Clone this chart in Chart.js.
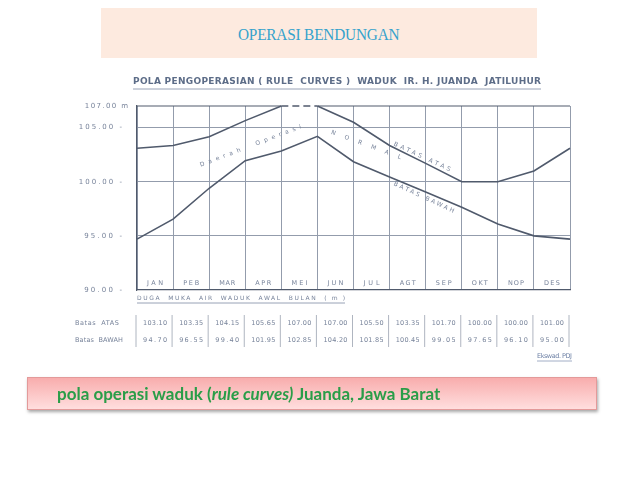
<!DOCTYPE html>
<html>
<head>
<meta charset="utf-8">
<title>Operasi Bendungan</title>
<script src="https://cdn.jsdelivr.net/npm/chart.js@4.4.1/dist/chart.umd.min.js"></script>
<style>
body { margin: 0; width: 638px; height: 478px; background: #fff; position: relative; overflow: hidden; }
#judul { position: absolute; left: 101px; top: 8px; width: 436px; height: 50px; background: #fdeadf;
  color: #35a2cc; font: 17px 'Liberation Serif', serif; text-align: center; line-height: 54px; }
#judul span { display: inline-block; transform: scaleX(0.9); letter-spacing: -0.2px; }
#grafik { position: absolute; left: 0; top: 0; }
#ket { position: absolute; left: 27px; top: 377px; width: 570px; height: 33px; box-sizing: border-box;
  border: 1px solid #e39a9a; background: linear-gradient(#f8adad, #ffdede);
  box-shadow: 1px 2px 3px rgba(0,0,0,.35); color: #2a9d48; font: bold 17px Lato, sans-serif;
  line-height: 31px; padding-left: 29px; }
</style>
</head>
<body>
<div id="judul"><span>OPERASI BENDUNGAN</span></div>
<canvas id="grafik" width="638" height="478"></canvas>
<div id="ket">pola operasi waduk (<i>rule curves)</i> Juanda, Jawa Barat</div>
<script>
// data (duga muka air awal bulan, m)
var bulan = ['JAN', 'PEB', 'MAR', 'APR', 'MEI', 'JUN', 'JUL', 'AGT', 'SEP', 'OKT', 'NOP', 'DES'];
var batasAtas = [103.10, 103.35, 104.15, 105.65, 107.00, 107.00, 105.50, 103.35, 101.70, 100.00, 100.00, 101.00];
var batasBawah = [94.70, 96.55, 99.40, 101.95, 102.85, 104.20, 101.85, 100.45, 99.05, 97.65, 96.10, 95.00];
var tickY = [90, 95, 100, 105, 107];

var warnaGaris = '#505a6c';
var warnaGrid = '#939cac';
var warnaTeks = '#77839a';

// titik awal bulan, ditambah awal Januari tahun berikutnya di ujung kanan
function titik(arr) {
    var out = [];
    for (var i = 0; i < arr.length; i++) out.push({ x: i, y: arr[i] });
    out.push({ x: arr.length, y: arr[0] });
    return out;
}

function labelY(v) {
    return v == 107 ? v.toFixed(2) + ' m' : v.toFixed(2) + ' -';
}

// tulis teks dengan jarak huruf supaya pas lebarnya
function teksRenggang(ctx, s, x, y, lebar, align) {
    ctx.letterSpacing = '0px';
    var w = ctx.measureText(s).width;
    var sp = (lebar - w) / Math.max(1, s.length - 1);
    ctx.letterSpacing = sp + 'px';
    ctx.textAlign = 'left';
    var x0 = x;
    if (align == 'center') x0 = x - lebar / 2;
    if (align == 'right') x0 = x - lebar;
    ctx.fillText(s, x0, y);
    ctx.letterSpacing = '0px';
}

var tulisan = [
    { s: 'Daerah  Operasi', x: 3.15, y: 103.3, sudut: -21, lebar: 108 },
    { s: 'N  O  R  M  A  L', x: 6.35, y: 103.4, sudut: 20, lebar: 74 },
    { s: 'BATAS ATAS', x: 7.9, y: 102.3, sudut: 25, lebar: 62 },
    { s: 'BATAS BAWAH', x: 7.95, y: 98.55, sudut: 25, lebar: 66 }
];

var sketsa = {
    id: 'sketsa',
    afterDraw: function (chart) {
        var ctx = chart.ctx;
        var sx = chart.scales.x, sy = chart.scales.y;
        var ca = chart.chartArea;
        ctx.save();
        // bingkai atas, terputus di Mei-Jun
        ctx.strokeStyle = warnaGaris;
        ctx.lineWidth = 1.2;
        ctx.beginPath();
        ctx.moveTo(sx.getPixelForValue(0), sy.getPixelForValue(107));
        ctx.lineTo(sx.getPixelForValue(4), sy.getPixelForValue(107));
        ctx.moveTo(sx.getPixelForValue(5), sy.getPixelForValue(107));
        ctx.lineTo(sx.getPixelForValue(12), sy.getPixelForValue(107));
        ctx.stroke();

        ctx.fillStyle = warnaTeks;
        ctx.textBaseline = 'middle';

        // label sumbu y
        ctx.font = '7px "DejaVu Sans", sans-serif';
        sy.ticks.forEach(function (t) {
            var s = labelY(t.value);
            teksRenggang(ctx, s, t.value == 107 ? 128 : 122, sy.getPixelForValue(t.value), s.length * 5.4, 'right');
        });

        // judul gambar
        ctx.font = '600 9px "DejaVu Sans", sans-serif';
        ctx.fillStyle = '#5d6d88';
        teksRenggang(ctx, 'POLA PENGOPERASIAN ( RULE  CURVES )  WADUK  IR. H. JUANDA  JATILUHUR', 337, 82, 408, 'center');
        ctx.strokeStyle = '#7d8aa3';
        ctx.lineWidth = 0.8;
        ctx.beginPath(); ctx.moveTo(133, 89); ctx.lineTo(541, 89); ctx.stroke();

        // nama bulan di dalam kolom
        ctx.fillStyle = warnaTeks;
        ctx.font = '6.5px "DejaVu Sans", sans-serif';
        for (var i = 0; i < bulan.length; i++) {
            teksRenggang(ctx, bulan[i], sx.getPixelForValue(i + 0.5), sy.getPixelForValue(90) - 7, 16, 'center');
        }

        // keterangan sumbu
        ctx.font = '6px "DejaVu Sans", sans-serif';
        teksRenggang(ctx, 'DUGA  MUKA  AIR  WADUK  AWAL  BULAN  ( m )', ca.left, 298, 208, 'left');
        ctx.beginPath(); ctx.moveTo(ca.left, 303); ctx.lineTo(ca.left + 208, 303); ctx.stroke();

        // tabel nilai
        var yA = 323, yB = 340;
        ctx.font = '6.5px "DejaVu Sans", sans-serif';
        teksRenggang(ctx, 'Batas  ATAS', 75, yA, 44, 'left');
        teksRenggang(ctx, 'Batas  BAWAH', 75, yB, 48, 'left');
        for (var j = 0; j < bulan.length; j++) {
            var cx = sx.getPixelForValue(j + 0.5);
            teksRenggang(ctx, batasAtas[j].toFixed(2), cx, yA, 24, 'center');
            teksRenggang(ctx, batasBawah[j].toFixed(2), cx, yB, 24, 'center');
        }
        ctx.strokeStyle = '#9aa2b0';
        ctx.lineWidth = 0.8;
        for (var k = 0; k <= bulan.length; k++) {
            var px = sx.getPixelForValue(k) - 1;
            ctx.beginPath(); ctx.moveTo(px, 315); ctx.lineTo(px, 347); ctx.stroke();
        }

        // sumber
        ctx.fillStyle = '#6f82a6';
        teksRenggang(ctx, 'Ekswad. PDJ', 572, 356, 35, 'right');
        ctx.strokeStyle = '#8b9bb8';
        ctx.beginPath(); ctx.moveTo(537, 361); ctx.lineTo(572, 361); ctx.stroke();

        // tulisan miring di antara kurva
        ctx.fillStyle = warnaTeks;
        ctx.font = '6px "DejaVu Sans", sans-serif';
        tulisan.forEach(function (t) {
            ctx.save();
            ctx.translate(sx.getPixelForValue(t.x), sy.getPixelForValue(t.y));
            ctx.rotate(t.sudut * Math.PI / 180);
            teksRenggang(ctx, t.s, 0, 0, t.lebar, 'center');
            ctx.restore();
        });
        ctx.restore();
    }
};

new Chart(document.getElementById('grafik'), {
    type: 'line',
    data: {
        datasets: [{
            label: 'Batas Atas',
            data: titik(batasAtas),
            borderColor: warnaGaris,
            borderWidth: 1.6,
            pointRadius: 0,
            tension: 0,
            clip: false,
            segment: {
                borderDash: function (c) { return c.p0DataIndex == 4 ? [7, 4] : undefined; }
            }
        }, {
            label: 'Batas Bawah',
            data: titik(batasBawah),
            borderColor: warnaGaris,
            borderWidth: 1.6,
            pointRadius: 0,
            tension: 0,
            clip: false
        }]
    },
    options: {
        responsive: false,
        animation: false,
        layout: { padding: { left: 0, top: 106, right: 68, bottom: 188 } },
        plugins: { legend: { display: false }, tooltip: { enabled: false } },
        scales: {
            x: {
                type: 'linear',
                min: 0,
                max: 12,
                ticks: { display: false, stepSize: 1 },
                grid: { color: warnaGrid, lineWidth: 1, drawTicks: false },
                border: { display: true, color: warnaGaris, width: 1.2 },
                afterFit: function (s) { s.height = 0; }
            },
            y: {
                min: 90,
                max: 107,
                afterBuildTicks: function (s) { s.ticks = tickY.map(function (v) { return { value: v }; }); },
                afterFit: function (s) { s.width = 137; },
                ticks: { display: false },
                grid: {
                    drawTicks: false,
                    color: function (c) { return (c.tick && (c.tick.value == 90 || c.tick.value == 107)) ? 'rgba(0,0,0,0)' : warnaGrid; },
                    lineWidth: 1
                },
                border: { display: true, color: warnaGaris, width: 1.2 }
            }
        }
    },
    plugins: [sketsa]
});
</script>
</body>
</html>
